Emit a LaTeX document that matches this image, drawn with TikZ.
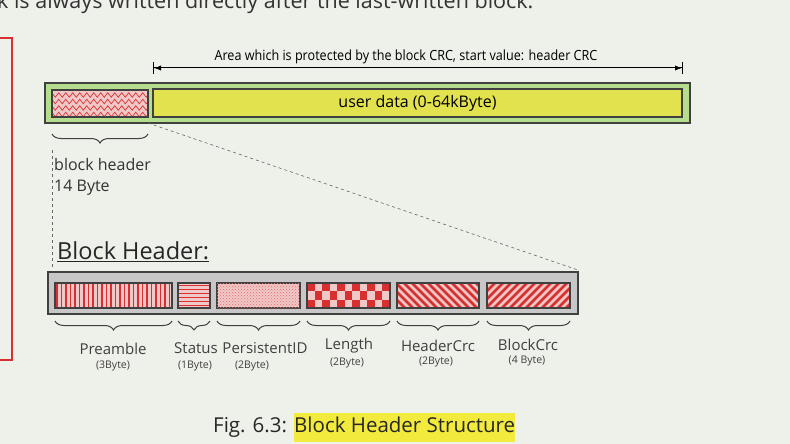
\documentclass[tikz,border=0pt]{standalone}
\usepackage{fontspec}
\setmainfont{Open Sans}
\usetikzlibrary{patterns,decorations.pathreplacing,decorations.pathmorphing,arrows.meta}
\definecolor{bg}{HTML}{EEF0EA}
\definecolor{lgreen}{HTML}{B5DD8E}
\definecolor{ylw}{HTML}{E2E24E}
\definecolor{pinkf}{HTML}{F0C8C8}
\definecolor{rd}{HTML}{D83030}
\definecolor{hl}{HTML}{F2EA3C}
\begin{document}
\begin{tikzpicture}[x=1pt,y=-1pt,
  box/.style={draw=black!75,line width=1.2pt},
  pk/.style={box,fill=pinkf},
  st/.style={rd,line width=1.6pt},
  brc/.style={decorate,decoration={brace,mirror,amplitude=9pt},draw=black!75,line width=1pt},
  lab/.style={font=\fontsize{15}{16}\selectfont,text=black!75},
  sub/.style={font=\fontsize{10.5}{11}\selectfont,text=black!75}]
\useasboundingbox (0,0) rectangle (790,444);
\clip (0,0) rectangle (790,444);
\fill[bg] (0,0) rectangle (790,444);
\node[anchor=base west,font=\fontsize{21.5}{23}\selectfont,text=black!80,inner sep=0] (top) at (-3,9) {k is always written directly after the last-written block.};
\draw[rd,line width=1.2pt] (0,38) -- (12,38) -- (12,360) -- (0,360);
% dimension
\coordinate (d1) at (153,68); \coordinate (d2) at (683,68);
\draw[{Bar[width=12pt]Latex[length=7pt]}-{Latex[length=7pt]Bar[width=12pt]},line width=1pt] (d1) -- (d2);
\node[font=\fontsize{14}{15}\selectfont,xscale=0.9] (area) at (406,57) {Area which is protected by the block CRC, start value: header CRC};
% block
\draw[box,fill=lgreen] (45,83) rectangle (690,123);
\draw[pk] (52,90) rectangle (148,117);
\begin{scope}
\clip (52,90) rectangle (148,117);
\foreach \y in {95,101.5,108,114.5}
  \draw[rd,line width=0.7pt,decorate,decoration={zigzag,segment length=7pt,amplitude=2.2pt}] (50,\y) -- (150,\y);
\end{scope}
\draw[box] (52,90) rectangle (148,117);
\node[box,fill=ylw,minimum width=529pt,minimum height=28pt,inner sep=0,font=\fontsize{16}{17}\selectfont] (ud) at (417.5,103) {user data (0-64kByte)};
\draw[brc] (52,134) -- (148,134);
\draw[black!60,dashed,line width=0.6pt] (52,150) -- (52,268);
\draw[black!60,dashed,line width=0.6pt] (148,123) -- (578,270);
\node[anchor=north west,align=left,font=\fontsize{16}{21}\selectfont,text=black!80,inner sep=0] (bh) at (54,158) {block header\\14 Byte};
\node[anchor=base west,inner sep=0,font=\fontsize{23.5}{25}\selectfont,text=black!85] (title) at (57,259) {\underline{Block Header:}};
% header fields
\draw[box,fill=black!22] (48,272) rectangle (578,314);
\draw[pk] (55,283) rectangle (172,308);
\begin{scope}\clip (55,283) rectangle (172,308);
\foreach \x in {57,61.5,...,172} \draw[st] (\x,283) -- (\x,308);\end{scope}
\draw[box] (55,283) rectangle (172,308);
\draw[pk] (178,283) rectangle (210,308);
\begin{scope}\clip (178,283) rectangle (210,308);
\foreach \y in {285.5,289.5,...,308} \draw[st] (178,\y) -- (210,\y);\end{scope}
\draw[box] (178,283) rectangle (210,308);
\draw[box,fill=pinkf,postaction={pattern color=rd!70,pattern=crosshatch dots}] (217,283) rectangle (300,308);
\draw[pk] (307,283) rectangle (390,308);
\foreach \i in {0,...,10} \foreach \j in {0,...,2}{
  \pgfmathtruncatemacro\parity{mod(\i+\j,2)}
  \ifnum\parity=0 \fill[rd] ({307+\i*7.545},{283+\j*8.33}) rectangle ++(7.545,8.33);\fi}
\draw[box] (307,283) rectangle (390,308);
\draw[pk] (397,283) rectangle (479,308);
\begin{scope}\clip (397,283) rectangle (479,308);
\foreach \x in {380,388,...,490} \draw[rd,line width=2.6pt] (\x,283) -- (\x+25,308);\end{scope}
\draw[box] (397,283) rectangle (479,308);
\draw[pk] (487,283) rectangle (570,308);
\begin{scope}\clip (487,283) rectangle (570,308);
\foreach \x in {487,495,...,600} \draw[rd,line width=2.6pt] (\x,283) -- (\x-25,308);\end{scope}
\draw[box] (487,283) rectangle (570,308);
\draw[brc] (55,321) -- (172,321);
\draw[brc] (178,321) -- (210,321);
\draw[brc] (217,321) -- (300,321);
\draw[brc] (307,321) -- (390,321);
\draw[brc] (397,321) -- (479,321);
\draw[brc] (487,321) -- (570,321);
\node[lab] (l1) at (113,349) {Preamble}; \node[sub] (s1) at (113,366) {(3Byte)};
\node[lab] (l2) at (196,348) {Status}; \node[sub] (s2) at (195,366) {(1Byte)};
\node[lab] (l3) at (265,348) {PersistentID}; \node[sub] (s3) at (252,366) {(2Byte)};
\node[lab] (l4) at (349,346) {Length}; \node[sub] (s4) at (347,363) {(2Byte)};
\node[lab] (l5) at (438,346) {HeaderCrc}; \node[sub] (s5) at (436,362) {(2Byte)};
\node[lab] (l6) at (528,345) {BlockCrc}; \node[sub] (s6) at (527,361) {(4 Byte)};
\node[anchor=base west,inner sep=0,font=\fontsize{20.5}{22}\selectfont,text=black!85] (fig) at (213,432) {Fig. 6.3: \colorbox{hl}{\strut\hspace{-3pt}Block Header Structure\hspace{-3pt}}};
\end{tikzpicture}
\end{document}
